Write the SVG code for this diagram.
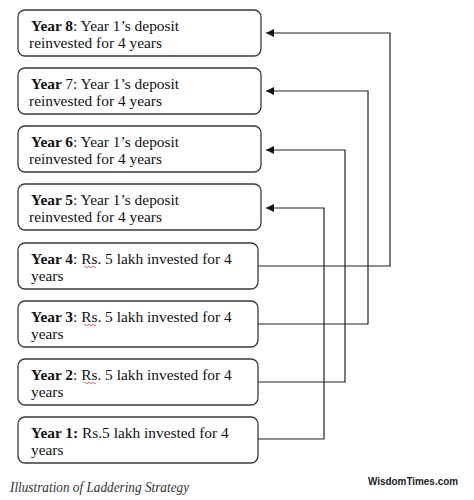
<svg xmlns="http://www.w3.org/2000/svg" width="474" height="500" viewBox="0 0 474 500">
<defs>
<style>
.box{fill:#fff;stroke:#3a3a3a;stroke-width:1.3}
.t{font-family:"Liberation Serif","Times New Roman",serif;font-size:15.4px;fill:#111}
.b{font-weight:bold}
.c{fill:none;stroke:#222;stroke-width:1.2}
.sq{fill:none;stroke:#d44;stroke-width:0.8}
</style>
<marker id="ah" markerWidth="9" markerHeight="8" refX="8" refY="4" orient="auto" markerUnits="userSpaceOnUse">
<path d="M0,0 L8,4 L0,8 Z" fill="#111"/>
</marker>
</defs>
<rect width="474" height="500" fill="#fff"/>
<g id="year8">
<rect class="box" x="18" y="10" width="243" height="46" rx="7"/>
<text class="t" x="31" y="31"><tspan class="b">Year 8</tspan>: Year 1’s deposit</text>
<text class="t" x="29" y="48">reinvested for 4 years</text>
</g>
<g id="year7">
<rect class="box" x="18" y="68" width="243" height="46" rx="7"/>
<text class="t" x="31" y="89"><tspan class="b">Year </tspan>7: Year 1’s deposit</text>
<text class="t" x="29" y="106">reinvested for 4 years</text>
</g>
<g id="year6">
<rect class="box" x="18" y="126" width="243" height="46" rx="7"/>
<text class="t" x="31" y="147"><tspan class="b">Year 6</tspan>: Year 1’s deposit</text>
<text class="t" x="29" y="164">reinvested for 4 years</text>
</g>
<g id="year5">
<rect class="box" x="18" y="184" width="243" height="46" rx="7"/>
<text class="t" x="31" y="205"><tspan class="b">Year 5</tspan>: Year 1’s deposit</text>
<text class="t" x="29" y="222">reinvested for 4 years</text>
</g>
<g id="year4">
<rect class="box" x="18" y="243" width="240" height="46" rx="7"/>
<text class="t" x="31" y="264"><tspan class="b">Year 4</tspan>: Rs. 5 lakh invested for 4</text>
<text class="t" x="31" y="281">years</text>
<path class="sq" d="M84,267 q1,-1.5 2,0 t2,0 t2,0 t2,0 t2,0 t2,0"/>
</g>
<g id="year3">
<rect class="box" x="18" y="301" width="240" height="46" rx="7"/>
<text class="t" x="31" y="322"><tspan class="b">Year 3</tspan>: Rs. 5 lakh invested for 4</text>
<text class="t" x="31" y="339">years</text>
<path class="sq" d="M84,325 q1,-1.5 2,0 t2,0 t2,0 t2,0 t2,0 t2,0"/>
</g>
<g id="year2">
<rect class="box" x="18" y="359" width="240" height="46" rx="7"/>
<text class="t" x="31" y="380"><tspan class="b">Year 2</tspan>: Rs. 5 lakh invested for 4</text>
<text class="t" x="31" y="397">years</text>
<path class="sq" d="M84,383 q1,-1.5 2,0 t2,0 t2,0 t2,0 t2,0 t2,0"/>
</g>
<g id="year1">
<rect class="box" x="18" y="417" width="240" height="46" rx="7"/>
<text class="t" x="31" y="438"><tspan class="b">Year 1:</tspan> Rs.5 lakh invested for 4</text>
<text class="t" x="31" y="455">years</text>
</g>
<g id="connectors">
<path class="c" d="M258,266 H390 V33 H266" marker-end="url(#ah)"/>
<path class="c" d="M258,324 H368 V91 H266" marker-end="url(#ah)"/>
<path class="c" d="M258,382 H345 V150 H266" marker-end="url(#ah)"/>
<path class="c" d="M258,439 H324 V208 H266" marker-end="url(#ah)"/>
</g>
<text x="10" y="492" font-family="Liberation Serif,serif" font-style="italic" font-size="14" fill="#333" textLength="179" lengthAdjust="spacingAndGlyphs">Illustration of Laddering Strategy</text>
<text x="368" y="485" font-family="Liberation Sans,Arial,sans-serif" font-weight="bold" font-size="10.5" fill="#222" textLength="90" lengthAdjust="spacingAndGlyphs">WisdomTimes.com</text>
</svg>
